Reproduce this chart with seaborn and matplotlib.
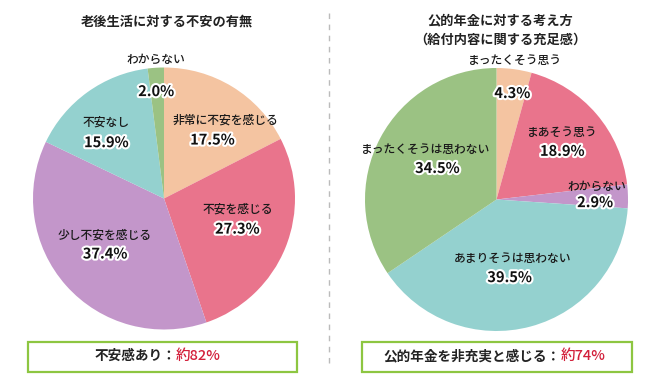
import matplotlib
matplotlib.use('Agg')
import matplotlib.pyplot as plt
import matplotlib.patheffects as pe
from matplotlib.patches import Rectangle
import seaborn as sns

sns.set_theme(style='white')
plt.rcParams['font.family'] = ['Noto Sans CJK JP', 'DejaVu Sans']

# 老後生活に対する不安の有無
left_labels = ['非常に不安を感じる', '不安を感じる', '少し不安を感じる', '不安なし', 'わからない']
left_values = [17.5, 27.3, 37.4, 15.9, 2.0]

# 公的年金に対する考え方
right_labels = ['まったくそう思う', 'まあそう思う', 'わからない', 'あまりそうは思わない', 'まったくそうは思わない']
right_values = [4.3, 18.9, 2.9, 39.5, 34.5]

colors = ['#f4c4a1', '#e9748c', '#c396ca', '#94d1cf', '#9bc283']

# label / percent positions in pie radius units
left_pos = [((0.47, 0.60), (0.37, 0.45)),
            ((0.56, -0.08), (0.56, -0.23)),
            ((-0.45, -0.28), (-0.45, -0.42)),
            ((-0.44, 0.58), (-0.44, 0.43)),
            ((-0.06, 1.06), (-0.06, 0.82))]
right_pos = [((0.14, 1.06), (0.12, 0.81)),
             ((0.50, 0.51), (0.50, 0.37)),
             ((0.76, 0.10), (0.75, -0.02)),
             ((0.12, -0.45), (0.10, -0.59)),
             ((-0.54, 0.38), (-0.45, 0.24))]

W, H = 660, 379
fig = plt.figure(figsize=(W / 100, H / 100), dpi=100)
fig.patch.set_facecolor('white')


def pie_axes(cx, cy, r):
    return fig.add_axes([(cx - r) / W, (H - cy - r) / H, 2 * r / W, 2 * r / H])


def draw_pie(ax, values, labels, cols, pos):
    ax.pie(values, colors=cols, startangle=90, counterclock=False,
           wedgeprops=dict(linewidth=0))
    ax.set_xlim(-1, 1)
    ax.set_ylim(-1, 1)
    ax.set_aspect('auto')
    ax.axis('off')
    for lab, v, (lp, pp) in zip(labels, values, pos):
        ax.text(lp[0], lp[1], lab, ha='center', va='center', fontsize=8.5,
                color='#1a1a1a', weight='medium')
        ax.text(pp[0], pp[1], f'{v:.1f}%', ha='center', va='center', fontsize=10.5,
                color='#111111', weight='bold',
                path_effects=[pe.withStroke(linewidth=3, foreground='white')])


ax1 = pie_axes(164, 198.5, 131)
draw_pie(ax1, left_values, left_labels, colors, left_pos)
ax2 = pie_axes(496.5, 199.5, 131.5)
draw_pie(ax2, right_values, right_labels, colors, right_pos)

# titles
fig.text(167 / W, 1 - 22 / H, '老後生活に対する不安の有無', ha='center', va='center',
         fontsize=9.5, weight='bold', color='#222222')
fig.text(500 / W, 1 - 20 / H, '公的年金に対する考え方', ha='center', va='center',
         fontsize=9.5, weight='bold', color='#222222')
fig.text(500 / W, 1 - 40 / H, '（給付内容に関する充足感）', ha='center', va='center',
         fontsize=9.5, weight='bold', color='#222222')

# dashed divider
fig.add_artist(plt.Line2D([329 / W, 329 / W], [1 - 13 / H, 1 - 367 / H],
                          color='#bbbbbb', linewidth=1, linestyle=(0, (4, 4))))

# summary boxes
for (x0, x1), split, black, red in [((28, 297), 176, '不安感あり：', '約82%'),
                                    ((362, 632), 561, '公的年金を非充実と感じる：', '約74%')]:
    fig.add_artist(Rectangle((x0 / W, 1 - 372 / H), (x1 - x0) / W, 30 / H,
                             transform=fig.transFigure, facecolor='white',
                             edgecolor='#8dc641', linewidth=1.6))
    fig.text(split / W, 1 - 356 / H, black, ha='right', va='center', fontsize=9.8,
             weight='semibold', color='#222222')
    fig.text(split / W, 1 - 356 / H, red, ha='left', va='center', fontsize=10.5,
             weight='medium', color='#d3203b')

fig.savefig('out.png', dpi=100, facecolor='white')
